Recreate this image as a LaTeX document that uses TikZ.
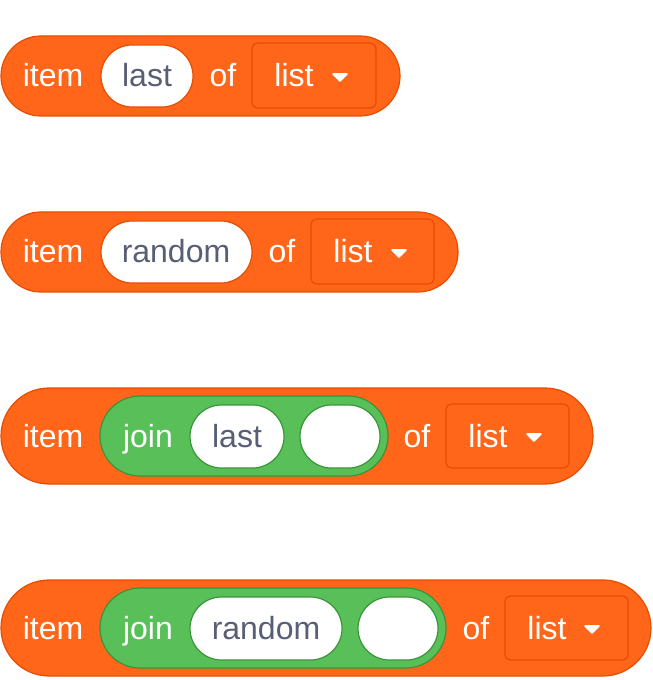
\documentclass[tikz,border=0pt]{standalone}
\usepackage{fontspec}
\setmainfont{Liberation Sans}
\definecolor{lorange}{HTML}{FF661A}
\definecolor{lorangeb}{HTML}{E64D00}
\definecolor{ogreen}{HTML}{59C059}
\definecolor{ogreenb}{HTML}{389438}
\definecolor{tgrey}{HTML}{575E75}
\begin{document}
\begin{tikzpicture}[x=0.75pt,y=-0.75pt,
  blk/.style={fill=lorange,draw=lorangeb,line width=0.9pt},
  grn/.style={fill=ogreen,draw=ogreenb,line width=0.9pt},
  slot/.style={fill=white,draw=lorangeb,line width=0.9pt},
  gslot/.style={fill=white,draw=ogreenb,line width=0.9pt},
  drop/.style={fill=lorange,draw=lorangeb,line width=0.9pt,rounded corners=4pt},
  wt/.style={text=white,font=\fontsize{24}{28}\selectfont,inner sep=0pt,anchor=base},
  gt/.style={text=tgrey,font=\fontsize{24}{28}\selectfont,inner sep=0pt,anchor=base},
  tri/.style={fill=white,draw=white,line width=1.2pt,line join=round}]
\useasboundingbox (0,0) rectangle (652,680);
\newcommand\pill[5]{\draw[#1,rounded corners=#5*0.375pt] (#2,#3) rectangle (#4,#3+#5);}
\newcommand\tri[2]{\draw[tri] (#1-7,#2-3) -- (#1+7,#2-3) -- (#1,#2+4) -- cycle;}
% block 1
\pill{blk}{1}{36}{400}{80}
\pill{slot}{101}{45}{193}{62}
\draw[drop] (252,43) rectangle (376,108);
\node[wt] (i1) at (53,87) {item};
\node[gt] (s1) at (147,87) {last};
\node[wt] (o1) at (223,87) {of};
\node[wt] (l1) at (294,87) {list};
\tri{340}{77}
% block 2
\pill{blk}{1}{212}{458}{80}
\pill{slot}{101}{221}{252}{62}
\draw[drop] (311,219) rectangle (434,284);
\node[wt] (i2) at (53,263) {item};
\node[gt] (s2) at (176,263) {random};
\node[wt] (o2) at (282,263) {of};
\node[wt] (l2) at (353,263) {list};
\tri{399}{253}
% block 3
\pill{blk}{1}{388}{593}{96}
\pill{grn}{100}{396}{388}{80}
\pill{gslot}{190}{405}{284}{63}
\pill{gslot}{300}{405}{380}{63}
\draw[drop] (446,404) rectangle (569,468);
\node[wt] (i3) at (53,447) {item};
\node[wt] (j3) at (148,447) {join};
\node[gt] (s3) at (237,447) {last};
\node[wt] (o3) at (417,447) {of};
\node[wt] (l3) at (488,447) {list};
\tri{534}{437}
% block 4
\pill{blk}{1}{580}{651}{96}
\pill{grn}{100}{588}{446}{80}
\pill{gslot}{190}{597}{342}{63}
\pill{gslot}{358}{597}{438}{63}
\draw[drop] (505,596) rectangle (628,660);
\node[wt] (i4) at (53,639) {item};
\node[wt] (j4) at (148,639) {join};
\node[gt] (s4) at (266,639) {random};
\node[wt] (o4) at (476,639) {of};
\node[wt] (l4) at (547,639) {list};
\tri{592}{629}
\end{tikzpicture}
\end{document}
